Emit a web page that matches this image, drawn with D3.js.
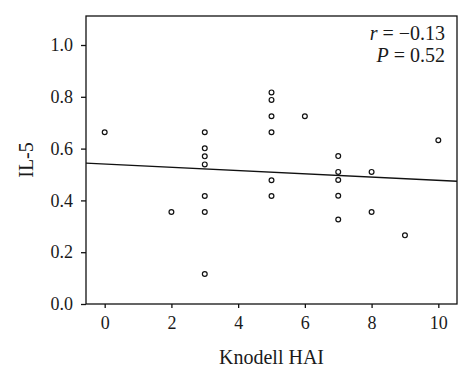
<!DOCTYPE html>
<html>
<head>
<meta charset="utf-8">
<script src="https://cdn.jsdelivr.net/npm/d3@7"></script>
<style>
  body { margin: 0; background: #fff; }
  svg { display: block; font-family: "Liberation Serif", "DejaVu Serif", serif; }
</style>
</head>
<body>
<script>
// Knodell HAI score vs IL-5 level
const hai = [0, 2, 3, 3, 3, 3, 3, 3, 3, 5, 5, 5, 5, 5, 5, 6, 7, 7, 7, 7, 7, 8, 8, 9, 10];
const il5 = [0.663, 0.355, 0.663, 0.601, 0.570, 0.539, 0.417, 0.355, 0.116,
             0.817, 0.788, 0.725, 0.663, 0.478, 0.417, 0.725,
             0.571, 0.510, 0.479, 0.418, 0.326, 0.510, 0.355, 0.265, 0.632];
const xTicks = [0, 2, 4, 6, 8, 10];
const yTicks = [0, 0.2, 0.4, 0.6, 0.8, 1.0];
const fitIntercept = 0.5405;
const fitSlope = -0.0063;
const statLines = [["r", " = \u22120.13"], ["P", " = 0.52"]];

const w = 474, h = 387;
const margin = {left: 86, right: 17, top: 16, bottom: 83};
const serif = '"Liberation Serif", "DejaVu Serif", serif';

const xScale = d3.scaleLinear()
                 .domain([-0.56, 10.56])
                 .range([margin.left, w - margin.right]);
const yScale = d3.scaleLinear()
                 .domain([0, 1.112])
                 .range([h - margin.bottom, margin.top]);

const svg = d3.select('body').append('svg')
              .attr('width', w)
              .attr('height', h);

// frame
svg.append('rect')
   .attr('x', margin.left)
   .attr('y', margin.top)
   .attr('width', w - margin.left - margin.right)
   .attr('height', h - margin.top - margin.bottom)
   .attr('fill', 'none')
   .attr('stroke', '#111')
   .attr('stroke-width', 1.3);

const xAxis = d3.axisBottom(xScale)
                .tickValues(xTicks)
                .tickFormat(d3.format('d'))
                .tickSizeInner(4)
                .tickSizeOuter(0)
                .tickPadding(8);
const yAxis = d3.axisLeft(yScale)
                .tickValues(yTicks)
                .tickFormat(d3.format('.1f'))
                .tickSizeInner(5)
                .tickSizeOuter(0)
                .tickPadding(8);

const gx = svg.append('g')
   .attr('transform', 'translate(0,' + (h - margin.bottom) + ')')
   .call(xAxis);
const gy = svg.append('g')
   .attr('transform', 'translate(' + margin.left + ',0)')
   .call(yAxis);

[gx, gy].forEach(g => {
  g.attr('font-family', serif).attr('font-size', 18);
  g.select('.domain').remove();
  g.selectAll('.tick line').attr('stroke', '#111').attr('stroke-width', 1.3);
  g.selectAll('.tick text').attr('fill', '#1a1a1a');
});

// regression line across the full frame
const xd = xScale.domain();
svg.append('line')
   .attr('x1', xScale(xd[0]))
   .attr('y1', yScale(fitIntercept + fitSlope * xd[0]))
   .attr('x2', xScale(xd[1]))
   .attr('y2', yScale(fitIntercept + fitSlope * xd[1]))
   .attr('stroke', '#111')
   .attr('stroke-width', 1.3);

svg.selectAll('.dot')
   .data(hai.map((x, i) => [x, il5[i]]))
   .enter()
   .append('circle')
   .attr('class', 'dot')
   .attr('cx', d => xScale(d[0]))
   .attr('cy', d => yScale(d[1]))
   .attr('r', 2.4)
   .attr('fill', '#fff')
   .attr('stroke', '#111')
   .attr('stroke-width', 1.2);

// stats
svg.selectAll('.stat')
   .data(statLines)
   .enter()
   .append('text')
   .attr('class', 'stat')
   .attr('x', w - margin.right - 12)
   .attr('y', (d, i) => 40 + i * 22)
   .attr('text-anchor', 'end')
   .style('font-size', '20px')
   .attr('fill', '#1a1a1a')
   .each(function(d) {
     const t = d3.select(this);
     t.append('tspan').style('font-style', 'italic').text(d[0]);
     t.append('tspan').text(d[1]);
   });

svg.append('text')
   .attr('x', (margin.left + w - margin.right) / 2)
   .attr('y', 364)
   .attr('text-anchor', 'middle')
   .style('font-size', '20px')
   .attr('fill', '#1a1a1a')
   .text('Knodell HAI');

svg.append('text')
   .attr('transform', 'translate(33,' + ((margin.top + h - margin.bottom) / 2) + ') rotate(-90)')
   .attr('text-anchor', 'middle')
   .style('font-size', '20px')
   .attr('fill', '#1a1a1a')
   .text('IL-5');
</script>
</body>
</html>
